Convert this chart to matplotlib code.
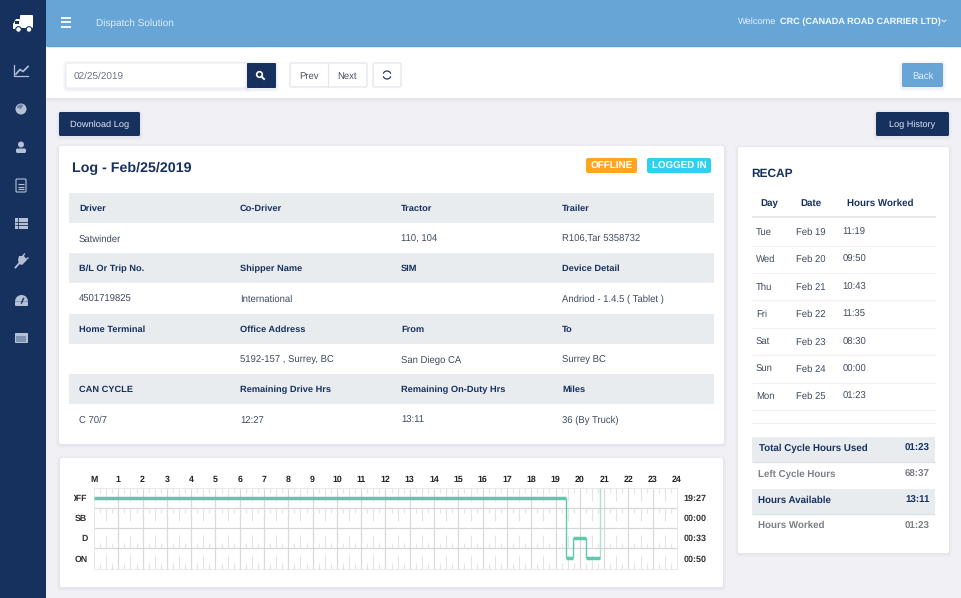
#!/usr/bin/env python3
"""Driver log page: the dispatch dashboard chrome with the 24h duty grid in it."""

import matplotlib
matplotlib.use("Agg")
import matplotlib.pyplot as plt
from matplotlib.patches import Circle, FancyBboxPatch, Polygon, Rectangle, Wedge
from matplotlib.transforms import Bbox

plt.rcParams["font.family"] = ["Liberation Sans", "DejaVu Sans"]
plt.rcParams["text.hinting"] = "no_hinting"
plt.rcParams["text.hinting_factor"] = 8

NAVY = "#17315f"
BLUE = "#66a5d6"
PAGE = "#f0f0f5"
GREY = "#e9ecef"
TEXT = "#3f4a5e"
ICON = "#b4c0d4"
TEAL = "#5fc9ae"

# the log grid
hour_labels = ["M"] + [str(h) for h in range(1, 25)]
duty_rows = ["OFF", "SB", "D", "ON"]
duty_totals = ["19:27", "00:00", "00:33", "00:50"]
seg_start = [0.0, 19.45, 19.72, 20.27]
seg_end = [19.45, 19.72, 20.27, 20.83]
seg_row = [0, 3, 2, 3]
log_end_hour = 20.83

# log table
table_heads = [
    ["Driver", "Co-Driver", "Tractor", "Trailer"],
    ["B/L Or Trip No.", "Shipper Name", "SIM", "Device Detail"],
    ["Home Terminal", "Office Address", "From", "To"],
    ["CAN CYCLE", "Remaining Drive Hrs", "Remaining On-Duty Hrs", "Miles"],
]
table_values = [
    ["Satwinder", "", "110, 104", "R106,Tar 5358732"],
    ["4501719825", "International", "", "Andriod - 1.4.5 ( Tablet )"],
    ["", "5192-157 , Surrey, BC", "San Diego CA", "Surrey BC"],
    ["C 70/7", "12:27", "13:11", "36 (By Truck)"],
]

# recap
recap_days = ["Tue", "Wed", "Thu", "Fri", "Sat", "Sun", "Mon"]
recap_dates = ["Feb 19", "Feb 20", "Feb 21", "Feb 22", "Feb 23", "Feb 24", "Feb 25"]
recap_hours = ["11:19", "09:50", "10:43", "11:35", "08:30", "00:00", "01:23"]
summary_labels = ["Total Cycle Hours Used", "Left Cycle Hours", "Hours Available", "Hours Worked"]
summary_values = ["01:23", "68:37", "13:11", "01:23"]

fig = plt.figure(figsize=(9.62, 5.98), dpi=100, facecolor=PAGE)
ui = fig.add_axes([0, 0, 1, 1])
ui.set_xlim(0, 962)
ui.set_ylim(598, 0)
ui.axis("off")


def box(x0, y0, x1, y1, color, radius=0.0, shadow=False, edge="none"):
    if shadow:
        for grow, alpha in ((3, 0.10), (1.5, 0.18)):
            ui.add_patch(FancyBboxPatch((x0 - grow, y0 - grow + 1), x1 - x0 + 2 * grow, y1 - y0 + 2 * grow,
                                        boxstyle=f"round,pad=0,rounding_size={radius + grow}",
                                        fc="#c9cbd8", ec="none", alpha=alpha))
    if radius:
        ui.add_patch(FancyBboxPatch((x0, y0), x1 - x0, y1 - y0, boxstyle=f"round,pad=0,rounding_size={radius}",
                                    fc=color, ec=edge, lw=0.8))
    else:
        ui.add_patch(Rectangle((x0, y0), x1 - x0, y1 - y0, fc=color, ec=edge, lw=0.8))


def label(x, y, s, size=6.85, color=TEXT, bold=False, ha="left"):
    # baseline, so neighbours in a row line up whatever their descenders do
    return ui.text(x, y + 0.5 * size, s, fontsize=size, color=color, ha=ha, va="baseline",
                   fontweight="bold" if bold else "normal")


def rule(x0, x1, y, color="#e6e8ec", lw=0.8):
    ui.plot([x0, x1], [y, y], color=color, lw=lw, solid_capstyle="butt")


def button(x0, y0, x1, y1, s, fc=NAVY, tc="#dfe6f2", size=6.7):
    box(x0, y0, x1, y1, fc, radius=1.5, shadow=True)
    label((x0 + x1) / 2, (y0 + y1) / 2, s, size=size, color=tc, ha="center")


# sidebar, top bar, toolbar
box(46, 46, 962, 98, "white", shadow=True)
box(46, 0, 962, 46, BLUE)
box(0, 0, 46, 598, NAVY)
rule(46, 962, 45.5, color="#5c9bd0", lw=1)
label(96, 22, "Dispatch Solution", size=7.2, color="#e2eef8")
label(780, 21, "CRC (CANADA ROAD CARRIER LTD)", size=6.6, color="#f6fafd", bold=True)
label(738, 21, "Welcome", size=6.7, color="#e6f0f9")
ui.plot([942, 944, 946], [20, 22, 20], color="#f0f6fb", lw=0.7)
for y in (17.5, 22, 26.5):
    rule(61, 71, y, color="#f4f8fc", lw=1.4)

# truck logo
box(20, 15, 33, 28, "white", radius=1)
ui.add_patch(Polygon([[13, 29], [13, 24], [16, 19], [21, 19], [21, 29]], fc="white"))
ui.add_patch(Rectangle((15.5, 20.5), 3.5, 3, fc=NAVY))
for cx in (18.5, 29):
    ui.add_patch(Circle((cx, 29.5), 2.8, fc="white", ec=NAVY, lw=0.8))

# sidebar icons
ui.plot([14.5, 14.5, 28.5], [65, 76, 76], color=ICON, lw=0.9)
ui.plot([16, 20, 23, 28], [74, 69.5, 71.5, 66.5], color=ICON, lw=1.2)
ui.add_patch(Circle((21, 109), 5.5, fc=ICON))
ui.add_patch(Wedge((21, 109), 4.5, 200, 300, fc=NAVY, alpha=0.45))
ui.add_patch(Circle((21, 144.5), 3, fc=ICON))
box(16, 148.5, 26, 153, ICON, radius=1.5)
box(16, 179, 26, 192, NAVY, radius=1, edge=ICON)
for y in (184, 186.5, 189):
    rule(18, 24, y, color=ICON, lw=0.8)
box(15, 218, 28, 229, ICON)
for y in (221.7, 225.3):
    rule(15, 28, y, color=NAVY, lw=0.6)
ui.plot([18.5, 18.5], [218, 229], color=NAVY, lw=0.6)
ui.add_patch(Polygon([[19, 256], [24, 256], [27, 260], [22, 265], [19, 264], [18, 260]], fc=ICON))
ui.plot([15.5, 19], [267.5, 263.5], color=ICON, lw=1.3)
ui.plot([22, 24.5], [257, 254], color=ICON, lw=1)
ui.plot([25, 28], [260, 258], color=ICON, lw=1)
ui.add_patch(Wedge((21.5, 301.5), 6.5, 180, 360, fc=ICON))
box(15, 301.5, 28, 306, ICON, radius=1)
ui.plot([21.5, 23.5], [303, 298.5], color=NAVY, lw=1)
box(15, 333, 28, 343, ICON, radius=0.8)
box(16.5, 336, 26.5, 341.5, "#7f92b2")

# date search + nav buttons
box(66, 63, 248, 88, "white", radius=2, shadow=True, edge="#ebedf1")
label(74, 75.5, "02/25/2019", size=7.2, color="#6a7280")
box(247, 63, 276, 88, NAVY, radius=1, shadow=True)
ui.add_patch(Circle((259.5, 74.5), 2.8, fc="none", ec="white", lw=1.2))
ui.plot([261.5, 264], [76.5, 79], color="white", lw=1.4)
box(290, 63, 367, 87, "white", radius=1.5, edge="#dfe2e7")
ui.plot([328, 328], [63, 87], color="#e3e5ea", lw=0.8)
label(309, 75, "Prev", color="#4a5260", ha="center")
label(347, 75, "Next", color="#4a5260", ha="center")
box(373, 63, 401, 87, "white", radius=1.5, edge="#dfe2e7")
ui.add_patch(Wedge((387, 75), 4.6, 20, 160, width=1.2, fc=NAVY))
ui.add_patch(Wedge((387, 75), 4.6, 200, 340, width=1.2, fc=NAVY))
button(902, 63, 943, 87, "Back", fc=BLUE, tc="#e4eff8", size=6.9)
button(59, 112, 140, 136, "Download Log")
button(876, 112, 949, 136, "Log History", size=6.6)

# log card
box(59, 146, 724, 444, "white", radius=2, shadow=True)
label(72, 167, "Log - Feb/25/2019", size=10.3, color=NAVY, bold=True)
box(586, 158, 637, 173, "#ffa51f", radius=2)
label(611.5, 165.5, "OFFLINE", size=7.1, color="white", bold=True, ha="center")
box(647, 158, 711, 173, "#2fd0ec", radius=2)
label(679, 165.5, "LOGGED IN", size=7.0, color="white", bold=True, ha="center")

col_x = [79, 240, 401, 562]
row_y = [193, 253, 314, 374]
for top, heads, values in zip(row_y, table_heads, table_values):
    box(69, top, 714, top + 30, GREY)
    for x, head, value in zip(col_x, heads, values):
        label(x, top + 14.5, head, size=6.7, color=NAVY, bold=True)
        label(x, top + 45.5, value)

# recap card
box(738, 147, 949, 553, "white", radius=2, shadow=True)
label(751, 173, "RECAP", size=8.6, color=NAVY, bold=True)
for x, head in zip((769, 811, 880.5), ("Day", "Date", "Hours Worked")):
    label(x, 202, head, size=7.0, color=NAVY, bold=True, ha="center")
rule(752, 936, 217, color="#e2e4e8", lw=1.2)
for i, (day, date, worked) in enumerate(zip(recap_days, recap_dates, recap_hours)):
    y = 231.5 + i * 27.4
    label(756, y, day)
    label(796, y, date)
    label(842.5, y, worked)
    rule(752, 936, y + 14, color="#f1f2f5")
rule(752, 936, 423, color="#eceef1")

for i, (name, value) in enumerate(zip(summary_labels, summary_values)):
    y = 447.5 + i * 25.8
    if i % 2 == 0:
        box(752, y - 10.5, 935, y + 14.5, GREY)
        rule(752, 935, y + 14.5, color="#dfe1e5", lw=1)
    color = NAVY if i % 2 == 0 else "#7b7f86"
    label(759 if i == 0 else 758, y, name, size=7.0, color=color, bold=True)
    label(930, y, value, size=7.0, color=color, bold=True, ha="right")

# log chart card
box(60, 458, 723, 587, "white", radius=2, shadow=True)
ax = fig.add_axes([94 / 962, 1 - 568.5 / 598, 583 / 962, 81 / 598])
ax.set_xlim(0, 24)
ax.set_ylim(4, 0)
ax.set_facecolor("white")
for spine in ax.spines.values():
    spine.set_color("#e8e8e8")
    spine.set_linewidth(0.7)

ax.xaxis.tick_top()
ax.set_xticks(range(25))
ax.set_xticklabels(hour_labels, fontsize=6.3, fontweight="bold", color="#222222")
ax.set_yticks([i + 0.5 for i in range(len(duty_rows))])
ax.set_yticklabels(duty_rows, fontsize=6.3, fontweight="bold", color="#333333")
ax.tick_params(axis="x", length=0, pad=2.5)
ax.tick_params(axis="y", length=0, pad=4.8)

right = ax.twinx()
right.set_ylim(4, 0)
right.set_yticks([i + 0.5 for i in range(len(duty_totals))])
right.set_yticklabels(duty_totals, fontsize=6.5, fontweight="bold", color="#333333")
right.tick_params(length=0, pad=4.5)
for spine in right.spines.values():
    spine.set_visible(False)

# the "OFF" label is cut off by the card's edge in the original
off_box = Bbox.from_extents(73.5, 0, 200, 598)
ax.get_yticklabels()[0].set_clip_box(off_box)
ax.get_yticklabels()[0].set_clip_on(True)

# grid: hour lines, row lines, quarter ticks hanging from the top two rows, rising in the bottom two
ax.vlines(range(1, 24), 0, 4, color="#dadada", lw=0.9)
ax.hlines(range(1, 4), 0, 24, color="#d6d6d6", lw=0.9)
for hour in range(24):
    for frac, tall in ((0.25, 0.28), (0.5, 0.66), (0.75, 0.28)):
        x = hour + frac
        for row in (0, 1):
            ax.vlines(x, row, row + tall, color="#e4e4e4", lw=0.8)
        for row in (2, 3):
            ax.vlines(x, row + 1 - tall, row + 1, color="#e4e4e4", lw=0.8)

# duty line
for x0, x1, row in zip(seg_start, seg_end, seg_row):
    ax.hlines(row + 0.5, x0, x1, color=TEAL, lw=2.5, zorder=4)
for x, row_a, row_b in zip(seg_end[:-1], seg_row[:-1], seg_row[1:]):
    ax.vlines(x, row_a + 0.5, row_b + 0.5, color=TEAL, lw=1.0, zorder=3)
ax.vlines(log_end_hour, 0, seg_row[-1] + 0.5, color="#a9e2d3", lw=1.0, zorder=3)

fig.savefig("out.png", dpi=100, facecolor=PAGE)
